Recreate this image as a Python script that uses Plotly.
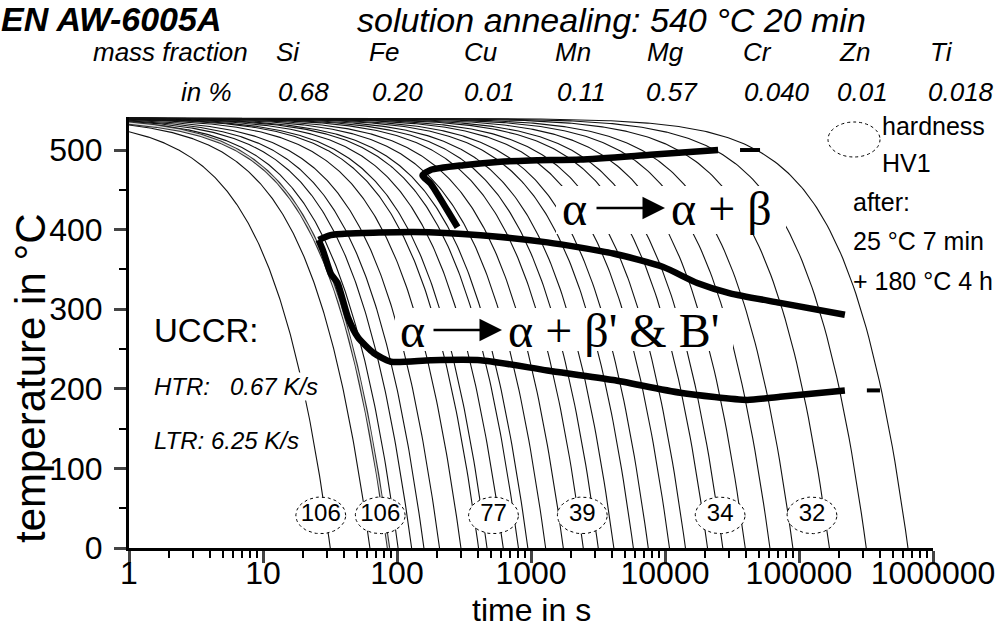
import numpy as np
import plotly.graph_objects as go

# ---------------- data ----------------
T_START = 540.0
# constant cooling rates of the cooling curves (K/s)
cooling_rates = [17, 8.6, 6.25, 5.3, 4.2, 3.4, 2.6, 1.8, 1.33, 1.15, 0.87, 0.67, 0.57,
                 0.42, 0.31, 0.22, 0.17, 0.13, 0.093, 0.072, 0.05, 0.038, 0.026, 0.02,
                 0.0136, 0.0089, 0.006, 0.0032, 0.0017, 0.00083]
ltr_rate = 6.25  # highlighted curve (LTR upper critical cooling rate)

# high temperature reaction boundary (alpha -> alpha + beta)
htr_time = [283, 238, 178, 155, 178, 313, 562, 989, 2335, 7760, 24900]
htr_temp = [403, 424, 458, 468, 475, 481, 485, 487, 488, 494, 500]

# low temperature reaction region (alpha -> alpha + beta' & B')
ltr_upper_time = [26, 32, 43, 133, 420, 1325, 4110, 9700, 17400, 30600, 72200, 220000]
ltr_upper_temp = [387, 393, 395, 397, 393, 384, 370, 353, 333, 320, 308, 293]
ltr_lower_time = [26, 28, 32, 36, 43, 51, 67, 90, 178, 420, 1325, 4110, 13000, 41000, 72200, 220000]
ltr_lower_temp = [387, 374, 345, 333, 290, 265, 245, 234, 236, 236, 223, 211, 195, 186, 190, 198]

# short isolated segments
seg_time = [[36300, 51200], [321000, 402000]]
seg_temp = [500, 198]

# hardness HV1 labels
hard_time = [27, 75, 525, 2415, 25800, 125000]
hard_val = [106, 106, 77, 39, 34, 32]
hard_temp = 41

elements = ["Si", "Fe", "Cu", "Mn", "Mg", "Cr", "Zn", "Ti"]
mass_frac = ["0.68", "0.20", "0.01", "0.11", "0.57", "0.040", "0.01", "0.018"]
elem_x = [288, 384, 480, 573, 665, 757, 854, 941]
val_x = [303, 397, 489, 581, 672, 777, 862, 961]

x_ticks = [1, 10, 100, 1000, 10000, 100000, 1000000]

# ---------------- figure ----------------
L, R, TOP, BOT = 129, 933, 117, 548
def px(x):
    return (x - L) / (R - L)
def py(y):
    return (BOT - y) / (BOT - TOP)

fig = go.Figure()

xs, ys = [], []
for r in cooling_rates:
    if r == ltr_rate:
        continue
    t = np.logspace(0, np.log10(T_START / r), 300)
    xs += list(t) + [None]
    ys += list(T_START - r * t) + [None]
fig.add_trace(go.Scatter(x=xs, y=ys, mode="lines", line=dict(color="#111", width=1.1),
                         hoverinfo="skip", showlegend=False))

t = np.logspace(0, np.log10(T_START / ltr_rate), 300)
fig.add_trace(go.Scatter(x=t, y=T_START - ltr_rate * t, mode="lines",
                         line=dict(color="#333", width=3.4), showlegend=False))
fig.add_trace(go.Scatter(x=t, y=T_START - ltr_rate * t, mode="lines",
                         line=dict(color="#e0e0e0", width=1.3), showlegend=False))

thick = dict(color="black", width=6.5, shape="spline", smoothing=0.6)
fig.add_trace(go.Scatter(x=htr_time, y=htr_temp, mode="lines", line=thick, showlegend=False))
fig.add_trace(go.Scatter(x=ltr_upper_time, y=ltr_upper_temp, mode="lines", line=thick, showlegend=False))
fig.add_trace(go.Scatter(x=ltr_lower_time, y=ltr_lower_temp, mode="lines", line=thick, showlegend=False))
for st, sT in zip(seg_time, seg_temp):
    fig.add_trace(go.Scatter(x=st, y=[sT, sT], mode="lines",
                             line=dict(color="black", width=4), showlegend=False))

# hardness ellipses
th = np.linspace(0, 2 * np.pi, 80)
for tc, hv in zip(hard_time, hard_val):
    ex = 10 ** (np.log10(tc) + 0.186 * np.cos(th))
    ey = hard_temp + 23 * np.sin(th)
    fig.add_trace(go.Scatter(x=ex, y=ey, mode="lines", fill="toself", fillcolor="white",
                             line=dict(color="black", width=1, dash="dot"), showlegend=False))
fig.add_trace(go.Scatter(x=hard_time, y=[hard_temp] * len(hard_time), mode="text",
                         text=[str(v) for v in hard_val],
                         textfont=dict(family="Liberation Sans", size=24, color="black"),
                         showlegend=False))

ann = []
def text(x, y, s, size, xanchor="center", italic=False, bold=False,
         family="Liberation Sans", bg=None, angle=0):
    if italic:
        s = "<i>" + s + "</i>"
    if bold:
        s = "<b>" + s + "</b>"
    d = dict(x=px(x), y=py(y), xref="paper", yref="paper", text=s, showarrow=False,
             xanchor=xanchor, yanchor="middle", textangle=angle, borderpad=0,
             font=dict(family=family, size=size, color="black"))
    if bg:
        d["bgcolor"] = bg
    ann.append(d)

text(0, 19, "EN AW-6005A", 34, "left", italic=True, bold=True)
text(356, 20, "solution annealing: 540 °C 20 min", 34, "left", italic=True)
text(249, 52, "mass fraction", 26, "right", italic=True)
text(233, 92, "in %", 26, "right", italic=True)
for e, x in zip(elements, elem_x):
    text(x, 52, e, 26, italic=True)
for v, x in zip(mass_frac, val_x):
    text(x, 92, v, 26, italic=True)

text(531, 610, "time in s", 32)
text(30, 378, "temperature in °C", 42, angle=-90)

text(153, 330, "UCCR:", 33, "left", bg="white")
text(153, 386, "HTR:   0.67 K/s", 24, "left", italic=True, bg="white")
text(153, 440, "LTR: 6.25 K/s", 24, "left", italic=True, bg="white")

text(881, 126, "hardness", 25, "left")
text(881, 163, "HV1", 25, "left")
text(852, 202, "after:", 25, "left")
text(852, 241, "25 °C 7 min", 25, "left")
text(852, 281, "+ 180 °C 4 h", 25, "left")

serif = "Liberation Serif"
text(561, 208, "α", 48, "left", family=serif)
text(670, 208, "α + β", 48, "left", family=serif)
text(399, 330, "α", 48, "left", family=serif)
text(507, 330, "α + β' &amp; B'", 48, "left", family=serif)
for (x0, x1, y) in [(595, 665, 208), (432, 502, 330)]:
    ann.append(dict(x=px(x1), y=py(y), ax=-(x1 - x0), ay=0, xref="paper", yref="paper",
                    axref="pixel", ayref="pixel", showarrow=True, arrowhead=2,
                    arrowsize=1.8, arrowwidth=2.5, arrowcolor="black", text=""))

shapes = [
    dict(type="circle", xref="paper", yref="paper", x0=px(828), x1=px(880),
         y0=py(157), y1=py(122), line=dict(color="black", width=1, dash="dot")),
    dict(type="rect", xref="paper", yref="paper", x0=px(556), x1=px(786),
         y0=py(234), y1=py(186), fillcolor="white", line=dict(width=0), layer="above"),
    dict(type="rect", xref="paper", yref="paper", x0=px(395), x1=px(733),
         y0=py(351), y1=py(308), fillcolor="white", line=dict(width=0), layer="above"),
]

fig.update_layout(
    width=1000, height=626, margin=dict(l=L, r=1000 - R, t=TOP, b=626 - BOT),
    paper_bgcolor="white", plot_bgcolor="white", annotations=ann, shapes=shapes,
    font=dict(family="Liberation Sans", color="black"),
    xaxis=dict(type="log", range=[0, 6], tickmode="array", tickvals=x_ticks,
               ticktext=[str(v) for v in x_ticks], ticks="outside", ticklen=12, tickwidth=2.5,
               showline=True, linewidth=3, linecolor="black", showgrid=False, zeroline=False,
               tickfont=dict(size=32), automargin=False, ticklabelstandoff=-17,
               minor=dict(ticks="outside", ticklen=7, tickwidth=2, tickcolor="black", dtick="D1")),
    yaxis=dict(range=[0, 541.5], tickmode="linear", tick0=0, dtick=100, ticks="outside",
               ticklen=12, tickwidth=2.5, showline=True, linewidth=3, linecolor="black",
               showgrid=False, zeroline=False, tickfont=dict(size=32), automargin=False,
               ticklabelstandoff=5,
               minor=dict(ticks="outside", ticklen=7, tickwidth=2, tickcolor="black", dtick=50)),
)

fig.write_html("out.html", config={"displayModeBar": False},
               post_script="document.body.style.margin='0';")
